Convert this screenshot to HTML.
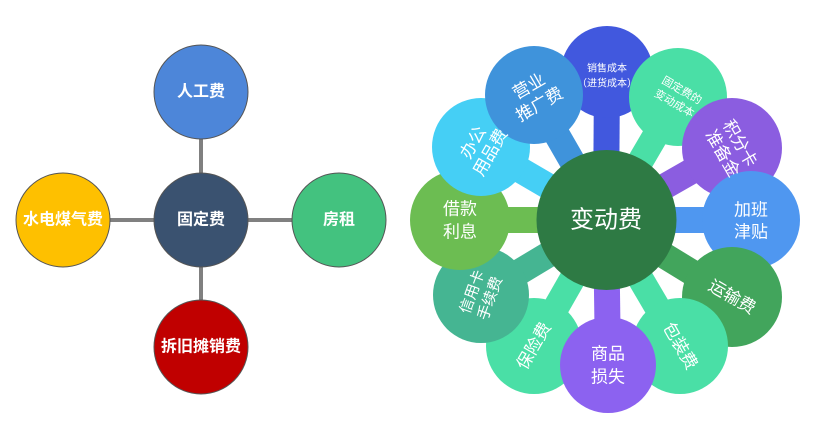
<!DOCTYPE html>
<html><head><meta charset="utf-8"><style>
html,body{margin:0;padding:0;background:#fff;width:822px;height:439px;overflow:hidden}
svg text{font-family:"Liberation Sans","Noto Sans CJK SC",sans-serif;fill:#fff;text-anchor:middle;dominant-baseline:central}
</style></head><body>
<svg width="822" height="439" viewBox="0 0 822 439">
<g stroke="#808080" stroke-width="4">
<line x1="201" y1="92" x2="201" y2="347"/>
<line x1="63" y1="220" x2="339" y2="220"/>
</g>
<g stroke="#555" stroke-width="1">
<circle cx="201" cy="92" r="47" fill="#4d86d9"/>
<circle cx="201" cy="220" r="47" fill="#3a5270"/>
<circle cx="339" cy="220" r="47" fill="#43c27f"/>
<circle cx="63" cy="220" r="47" fill="#fec000"/>
<circle cx="201" cy="347" r="47" fill="#c00000"/>
</g>
<g font-weight="bold" font-size="16">
<text x="201" y="92">人工费</text>
<text x="201" y="220">固定费</text>
<text x="339" y="220">房租</text>
<text x="63" y="220">水电煤气费</text>
<text x="201" y="347">拆旧摊销费</text>
</g>
<g stroke-width="26">
<line x1="606" y1="220" x2="607" y2="72" stroke="#4158de"/>
<line x1="606" y1="220" x2="678" y2="97" stroke="#4adfa6"/>
<line x1="606" y1="220" x2="732" y2="148" stroke="#8b5de0"/>
<line x1="606" y1="220" x2="751" y2="220" stroke="#4f97f0"/>
<line x1="606" y1="220" x2="732" y2="297" stroke="#42a55c"/>
<line x1="606" y1="220" x2="680" y2="346" stroke="#4adfa6"/>
<line x1="606" y1="220" x2="608" y2="365" stroke="#8c62f0"/>
<line x1="606" y1="220" x2="534" y2="346" stroke="#4adfa6"/>
<line x1="606" y1="220" x2="481" y2="295" stroke="#45b592"/>
<line x1="606" y1="220" x2="460" y2="220" stroke="#6cbd52"/>
<line x1="606" y1="220" x2="481" y2="147" stroke="#45cff5"/>
<line x1="606" y1="220" x2="534" y2="95" stroke="#3f93db"/>
</g>
<circle cx="607" cy="72" r="46" fill="#4158de"/>
<circle cx="678" cy="97" r="49" fill="#4adfa6"/>
<circle cx="732" cy="148" r="50" fill="#8b5de0"/>
<circle cx="751" cy="220" r="49" fill="#4f97f0"/>
<circle cx="732" cy="297" r="50" fill="#42a55c"/>
<circle cx="680" cy="346" r="48" fill="#4adfa6"/>
<circle cx="534" cy="346" r="48" fill="#4adfa6"/>
<circle cx="608" cy="365" r="48" fill="#8c62f0"/>
<circle cx="481" cy="295" r="48" fill="#45b592"/>
<circle cx="460" cy="220" r="50" fill="#6cbd52"/>
<circle cx="481" cy="147" r="49" fill="#45cff5"/>
<circle cx="534" cy="95" r="49" fill="#3f93db"/>
<circle cx="606.5" cy="220" r="70" fill="#2e7a44"/>
<text x="606" y="220" font-size="24">变动费</text>
<g font-size="10"><text x="607" y="69">销售成本</text><text x="607" y="84">（进货成本）</text></g>
<g font-size="11" transform="rotate(30 678 97)"><text x="678" y="90">固定费的</text><text x="678" y="105">变动成本</text></g>
<g font-size="17" transform="rotate(60 732 148)"><text x="732" y="139">积分卡</text><text x="732" y="159">准备金</text></g>
<g font-size="17"><text x="751" y="210">加班</text><text x="751" y="232">津贴</text></g>
<text x="732" y="297" font-size="17" transform="rotate(30 732 297)">运输费</text>
<text x="680" y="346" font-size="17" transform="rotate(60 680 346)">包装费</text>
<g font-size="17"><text x="608" y="354">商品</text><text x="608" y="377">损失</text></g>
<text x="534" y="346" font-size="17" transform="rotate(-60 534 346)">保险费</text>
<g font-size="15" transform="rotate(-70 481 295)"><text x="481" y="286">信用卡</text><text x="481" y="305">手续费</text></g>
<g font-size="17"><text x="460" y="209">借款</text><text x="460" y="232">利息</text></g>
<g font-size="17" transform="rotate(-60 481 147)"><text x="481" y="138">办公</text><text x="481" y="158">用品费</text></g>
<g font-size="17" transform="rotate(-30 534 95)"><text x="534" y="85">营业</text><text x="534" y="106">推广费</text></g>
</svg>
</body></html>
